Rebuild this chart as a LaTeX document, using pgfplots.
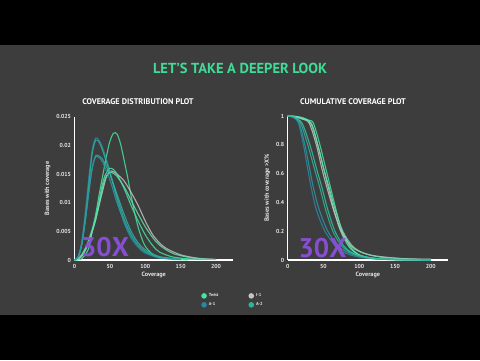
\documentclass[border=0pt]{standalone}
\usepackage{pgfplots}
\pgfplotsset{compat=1.18}
\usepackage{fontspec}
\setmainfont{PT Sans}
\definecolor{bg}{HTML}{3D3D3D}
\definecolor{tgreen}{HTML}{3FDC98}
\definecolor{cgreen}{HTML}{43E3A0}
\definecolor{cgray}{HTML}{C4C4C4}
\definecolor{cblue}{HTML}{2B86A6}
\definecolor{cteal}{HTML}{2DB39B}
\definecolor{cpurple}{HTML}{8B4FD8}
\definecolor{txt}{HTML}{E6E6E6}
\pgfplotsset{
  mystyle/.style={
    scale only axis,
    axis x line*=bottom, axis y line*=left,
    axis line style={-, white, line width=1.1pt},
    major tick length=0pt,
    tick label style={font=\fontsize{5.8}{6}\selectfont\bfseries, text=txt},
    label style={font=\fontsize{6.2}{6.5}\selectfont\bfseries, text=txt},
    /pgf/number format/assume math mode=true,
    scaled y ticks=false,
    xmin=0, xmax=224, xtick={0,50,100,150,200},
    xlabel={Coverage},
    xticklabel style={yshift=-0.5pt},
    xlabel style={yshift=3pt},
    every axis plot/.append style={smooth, line width=1.1pt, opacity=0.85},
    clip=false,
  }
}
\begin{document}
\begin{tikzpicture}
\fill[black] (0pt,0pt) rectangle (480pt,360pt);
\fill[bg] (0pt,45pt) rectangle (480pt,315pt);
\node[text=tgreen, font=\fontsize{14.5}{16}\selectfont\bfseries] at (240pt,292pt) {LET'S TAKE A DEEPER LOOK};
\node[text=white, font=\fontsize{8.2}{9}\selectfont\bfseries] at (138pt,258pt) {COVERAGE DISTRIBUTION PLOT};
\node[text=white, font=\fontsize{8.2}{9}\selectfont\bfseries] at (353pt,258pt) {CUMULATIVE COVERAGE PLOT};

\begin{axis}[mystyle, at={(74.5pt,100pt)}, anchor=south west,
  width=158.5pt, height=143.3pt,
  ymin=0, ymax=0.025, ytick={0,0.005,0.01,0.015,0.02,0.025},
  yticklabels={0,0.005,0.01,0.015,0.02,0.025},
  ylabel={Bases with coverage},
  ylabel style={yshift=-1pt},
  legend columns=2,
  legend style={at={(0.78,-0.205)}, anchor=north west, draw=none, fill=none,
    font=\fontsize{4.4}{4.6}\selectfont\bfseries, text=txt,
    /tikz/every even column/.append style={column sep=28pt},
    row sep=0.3pt},
  legend image code/.code={\fill[#1, opacity=1] (0pt,0pt) circle (2.2pt);},
  legend cell align=left,
]
% Twist
\addplot[cgreen] coordinates {(0,0) (10,0.0002) (20,0.002) (25,0.005) (30,0.008) (35,0.0115) (40,0.0148) (45,0.018) (50,0.0207) (55,0.0221) (60,0.0220) (65,0.0203) (70,0.0175) (75,0.0145) (80,0.0112) (85,0.0082) (90,0.0057) (95,0.0038) (100,0.0024) (110,0.001) (120,0.0004) (140,0.0001) (160,0)};
\addlegendentry{Twist}
% I-1
\addplot[cgray] coordinates {(0,0) (10,0.0006) (20,0.003) (30,0.0072) (40,0.0122) (45,0.0145) (50,0.0155) (55,0.0154) (60,0.0150) (70,0.0138) (80,0.0118) (90,0.0095) (100,0.0068) (110,0.0045) (120,0.0030) (130,0.0020) (150,0.0009) (175,0.0003) (200,0.0001)};
\addlegendentry{I-1}
% A-1
\addplot[cblue] coordinates {(0,0) (5,0.0005) (10,0.003) (15,0.008) (20,0.014) (25,0.0192) (30,0.0213) (35,0.0208) (40,0.0195) (50,0.0155) (60,0.0105) (70,0.0065) (80,0.0038) (90,0.0022) (100,0.0012) (120,0.0004) (150,0.0001)};
\addlegendentry{A-1}
% A-2
\addplot[cteal] coordinates {(0,0) (5,0.0005) (10,0.0025) (15,0.0065) (20,0.0115) (25,0.016) (30,0.0182) (35,0.0181) (40,0.0175) (50,0.015) (60,0.0115) (70,0.008) (80,0.005) (90,0.003) (100,0.0018) (120,0.0006) (150,0.0002) (200,0.0001)};
\addlegendentry{A-2}
% extra samples
\addplot[cgreen, forget plot] coordinates {(0,0) (8,0.0006) (15,0.002) (20,0.0035) (30,0.0075) (40,0.0135) (45,0.0152) (50,0.0160) (55,0.0158) (60,0.0150) (70,0.0125) (80,0.0095) (90,0.0068) (100,0.0044) (110,0.0026) (120,0.0014) (140,0.0005) (170,0.0001)};
\addplot[cgreen!70!cgray, forget plot] coordinates {(0,0) (8,0.0005) (15,0.0018) (20,0.0032) (30,0.0070) (40,0.0128) (45,0.0146) (50,0.0153) (55,0.0151) (60,0.0146) (70,0.0128) (80,0.0104) (90,0.0080) (100,0.0058) (110,0.0040) (120,0.0026) (140,0.0011) (170,0.0003) (200,0.0001)};
\addplot[cteal, forget plot] coordinates {(0,0) (5,0.0004) (10,0.0025) (15,0.007) (20,0.0128) (25,0.0185) (30,0.0209) (35,0.0205) (40,0.0190) (50,0.0152) (60,0.0110) (70,0.0072) (80,0.0044) (90,0.0026) (100,0.0015) (120,0.0005) (150,0.0001)};
\addplot[cblue!70!cteal, forget plot] coordinates {(0,0) (5,0.0005) (10,0.0028) (15,0.0068) (20,0.0118) (25,0.0160) (30,0.0180) (35,0.0178) (40,0.0170) (50,0.0140) (60,0.0100) (70,0.0068) (80,0.0042) (90,0.0025) (100,0.0014) (120,0.0004) (150,0.0001)};
\end{axis}

\begin{axis}[mystyle, at={(287.7pt,100pt)}, anchor=south west,
  width=160.3pt, height=144pt,
  ymin=0, ymax=1, ytick={0,0.2,0.4,0.6,0.8,1},
  ylabel={Bases with coverage >X\%},
  ylabel style={yshift=-1pt},
]
% Twist
\addplot[cgreen] coordinates {(0,1) (10,0.998) (20,0.99) (30,0.97) (36,0.95) (45,0.80) (52,0.66) (60,0.50) (68,0.34) (76,0.20) (88,0.09) (100,0.035) (120,0.01) (150,0.002) (200,0)};
\addplot[cgreen!80!white] coordinates {(0,1) (10,0.997) (20,0.985) (33,0.95) (42,0.80) (50,0.64) (57,0.50) (65,0.34) (74,0.20) (86,0.09) (100,0.035) (120,0.012) (150,0.003) (200,0.001)};
% I-1
\addplot[cgray] coordinates {(0,1) (10,0.995) (20,0.98) (30,0.95) (40,0.80) (48,0.63) (55,0.50) (64,0.35) (75,0.20) (88,0.10) (100,0.06) (120,0.03) (160,0.01) (200,0.005)};
\addplot[cgreen!60!cgray] coordinates {(0,1) (10,0.996) (20,0.98) (32,0.95) (42,0.80) (50,0.64) (58,0.50) (67,0.34) (77,0.20) (90,0.10) (105,0.05) (130,0.02) (170,0.007) (200,0.004)};
% A-1
\addplot[cblue] coordinates {(0,1) (8,0.99) (15,0.95) (22,0.80) (27,0.66) (33,0.50) (40,0.35) (52,0.20) (70,0.08) (85,0.04) (100,0.02) (120,0.008) (150,0.002) (200,0)};
\addplot[cblue!60!cteal] coordinates {(0,1) (8,0.99) (16,0.95) (24,0.80) (30,0.65) (36,0.50) (44,0.35) (56,0.20) (72,0.09) (90,0.04) (110,0.015) (140,0.004) (200,0)};
% A-2
\addplot[cteal] coordinates {(0,1) (8,0.995) (18,0.95) (28,0.80) (37,0.64) (45,0.50) (53,0.35) (63,0.20) (75,0.10) (85,0.06) (100,0.03) (115,0.015) (140,0.005) (200,0.001)};
\addplot[cteal!70!cgreen] coordinates {(0,1) (8,0.996) (20,0.95) (31,0.80) (40,0.64) (48,0.50) (56,0.35) (66,0.20) (78,0.10) (90,0.05) (105,0.025) (125,0.01) (160,0.003) (200,0.001)};
\end{axis}

\node[text=cpurple, inner sep=0pt, font=\fontsize{27}{29}\selectfont\bfseries, opacity=0.95] at (105pt,113pt) {30X};
\node[text=cpurple, inner sep=0pt, font=\fontsize{27}{29}\selectfont\bfseries, opacity=0.95] at (322.5pt,112pt) {30X};
\end{tikzpicture}
\end{document}
